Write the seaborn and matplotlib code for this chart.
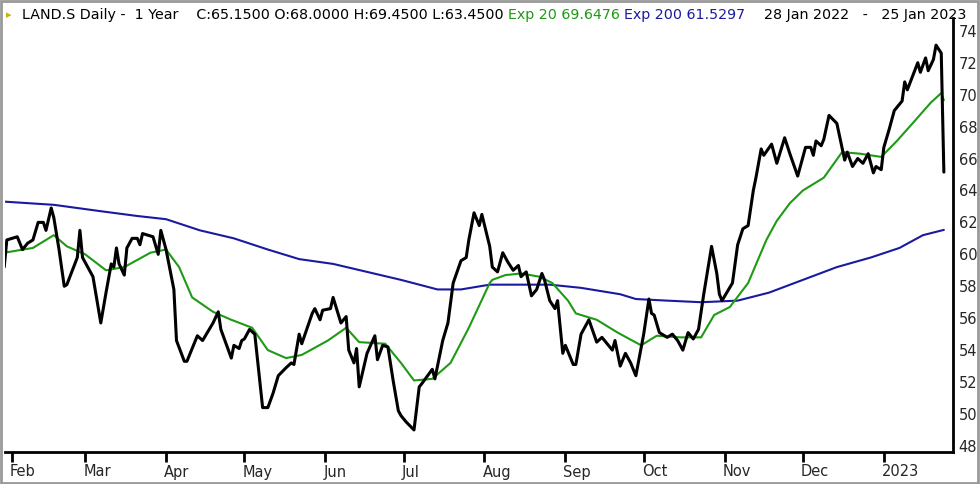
import numpy as np
import pandas as pd
import matplotlib
matplotlib.use("Agg")
import matplotlib.pyplot as plt
import matplotlib.transforms as mtrans
import seaborn as sns

base = pd.Timestamp("2022-02-01")

price_day = [-3,-2,2,4,6,8,10,12,13,15,16,18,20,21,25,26,27,29,31,34,36,38,39,40,41,43,44,46,48,49,50,52,54,56,57,59,62,63,66,67,71,73,77,79,80,84,85,87,88,89,91,93,96,98,100,102,105,107,108,110,111,115,116,118,119,122,123,126,128,129,131,132,133,136,139,140,142,144,146,148,149,151,154,156,157,161,162,165,167,169,172,174,175,177,179,180,183,184,186,188,190,192,194,195,197,199,201,203,204,206,208,209,211,212,215,216,218,221,224,226,228,230,231,233,235,237,239,242,244,245,246,248,251,253,255,257,259,261,263,265,268,270,271,272,276,278,280,282,284,285,287,288,291,293,296,298,301,304,306,307,308,310,311,313,316,319,320,322,324,326,328,330,331,333,334,336,338,341,342,343,347,348,350,351,353,354,356,357]
price_val = [59.2,60.9,61.1,60.3,60.7,60.9,62.0,62.0,61.5,62.9,62.3,60.3,58.0,58.1,59.8,61.5,59.8,59.2,58.6,55.7,57.6,59.4,59.2,60.4,59.4,58.7,60.4,61.0,61.0,60.6,61.3,61.2,61.1,60.0,61.5,60.3,57.8,54.6,53.3,53.3,54.9,54.6,55.7,56.4,55.3,53.5,54.3,54.1,54.6,54.7,55.3,55.0,50.4,50.4,51.3,52.4,52.9,53.2,53.1,55.0,54.4,56.3,56.6,55.9,56.5,56.6,57.3,55.7,56.1,54.0,53.2,54.1,51.7,53.8,54.9,53.4,54.3,54.2,52.1,50.2,49.9,49.5,49.0,51.7,51.9,52.8,52.2,54.6,55.7,58.2,59.6,59.8,60.9,62.6,61.8,62.5,60.5,59.2,58.9,60.1,59.5,59.0,59.3,58.6,58.9,57.4,57.8,58.8,58.4,57.1,56.6,57.1,53.8,54.3,53.1,53.1,55.0,55.9,54.5,54.8,54.4,54.0,54.6,53.0,53.8,53.2,52.4,55.0,57.2,56.3,56.2,55.1,54.8,55.0,54.6,54.0,55.1,54.7,55.3,57.5,60.5,58.8,57.5,57.1,58.2,60.6,61.6,61.8,64.0,64.8,66.6,66.2,66.9,65.7,67.3,66.3,64.9,66.7,66.7,66.2,67.1,66.8,67.2,68.7,68.2,65.9,66.4,65.5,66.0,65.7,66.3,65.1,65.5,65.3,66.7,67.8,69.0,69.6,70.8,70.3,72.0,71.4,72.3,71.5,72.2,73.1,72.6,65.15]

ema20_day = [-3,8,16,21,28,36,43,53,59,64,69,77,84,92,98,105,111,121,128,133,143,149,154,161,168,175,183,184,189,195,202,207,213,216,224,232,241,247,256,264,269,275,282,289,293,298,303,311,318,325,333,339,345,352,356,357]
ema20_val = [60.1,60.4,61.2,60.5,60.0,59.0,59.2,60.1,60.3,59.2,57.3,56.4,55.9,55.4,54.0,53.5,53.7,54.6,55.4,54.5,54.4,53.2,52.1,52.2,53.2,55.4,58.2,58.4,58.7,58.8,58.6,58.2,57.1,56.3,55.9,55.1,54.3,54.9,54.8,54.8,56.2,56.7,58.2,60.9,62.1,63.2,64.0,64.8,66.4,66.3,66.1,67.1,68.2,69.5,70.1,69.65]

ema200_day = [-3,16,34,48,59,72,85,98,110,123,136,149,163,172,183,195,206,218,233,239,251,264,278,290,303,316,329,340,349,357]
ema200_val = [63.3,63.1,62.7,62.4,62.2,61.5,61.0,60.3,59.7,59.4,58.9,58.4,57.8,57.8,58.1,58.1,58.1,57.9,57.5,57.2,57.1,57.0,57.1,57.6,58.4,59.2,59.8,60.4,61.2,61.53]

month_labels = ["Feb","Mar","Apr","May","Jun","Jul","Aug","Sep","Oct","Nov","Dec","2023"]
y_ticks = [48,50,52,54,56,58,60,62,64,66,68,70,72,74]

def to_df(days, vals):
    return pd.DataFrame({"date": base + pd.to_timedelta(days, unit="D"), "v": vals})

sns.set_style("white")
plt.rcParams["font.family"] = ["DejaVu Sans"]

W, H = 980, 484
fig = plt.figure(figsize=(W/100, H/100), dpi=100)
ax = fig.add_axes([5/W, (H-452)/H, (953-5)/W, (452-18)/H])

sns.lineplot(data=to_df(ema200_day, ema200_val), x="date", y="v", ax=ax, color="#1a1aa0", lw=1.5)
sns.lineplot(data=to_df(ema20_day, ema20_val), x="date", y="v", ax=ax, color="#1e9a14", lw=1.5)
sns.lineplot(data=to_df(price_day, price_val), x="date", y="v", ax=ax, color="black", lw=2.2)

ax.set_xlim(base + pd.Timedelta(days=-2.7), base + pd.Timedelta(days=360.5))
ax.set_ylim(47.62, 74.8)
ax.set_xlabel(""); ax.set_ylabel("")

for s in ["top", "left"]:
    ax.spines[s].set_visible(False)
for s in ["bottom", "right"]:
    ax.spines[s].set_color("black"); ax.spines[s].set_linewidth(2)

ax.yaxis.tick_right()
ax.set_yticks(y_ticks)
ax.set_yticklabels([str(t) for t in y_ticks], fontsize=10.5)
ax.tick_params(axis="y", length=0, pad=4)

mt = pd.date_range("2022-02-01", periods=12, freq="MS")
ax.set_xticks(mt)
ax.set_xticklabels(month_labels, fontsize=10.5, ha="left")
ax.tick_params(axis="x", bottom=True, length=7, width=2, direction="out", color="black", pad=2)
off = mtrans.ScaledTranslation(-2/100, 0, fig.dpi_scale_trans)
for lab in ax.get_xticklabels():
    lab.set_transform(lab.get_transform() + off)

# title pieces
y0 = 1 - 15/H
parts = [("LAND.S Daily -  1 Year    C:65.1500 O:68.0000 H:69.4500 L:63.4500 ", "black"),
         ("Exp 20 69.6476 ", "#1e9a14"),
         ("Exp 200 61.5297", "#1a1aa0"),
         ("    28 Jan 2022   -   25 Jan 2023", "black")]
renderer = fig.canvas.get_renderer()
x = 22/W
for txt, col in parts:
    t = fig.text(x, y0, txt, color=col, fontsize=10.3, va="center", ha="left")
    bb = t.get_window_extent(renderer=renderer)
    x += bb.width / W
fig.text(6/W, y0, "▸", color="#c8b400", fontsize=8, va="center")

fig.patches.append(plt.Rectangle((0.001, 0.002), 0.997, 0.996, transform=fig.transFigure,
                                 fill=False, edgecolor="#999999", lw=2))
fig.savefig("out.png", dpi=100)
